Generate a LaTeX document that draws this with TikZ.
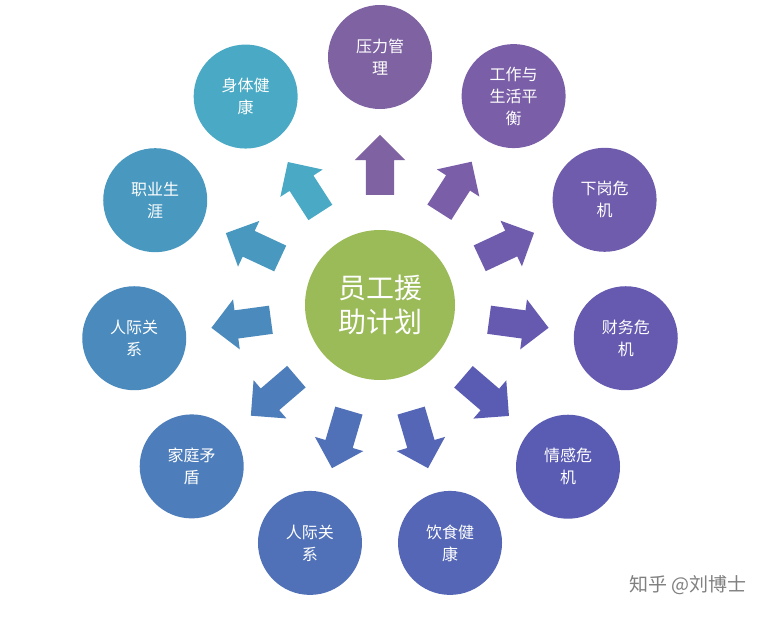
\documentclass[tikz,border=0pt]{standalone}
\usepackage{fontspec}
\setmainfont{Noto Sans CJK SC}
\usetikzlibrary{shapes.arrows,calc}
\definecolor{hubgreen}{HTML}{9BBB59}
\definecolor{c1}{HTML}{7E62A2}
\definecolor{c2}{HTML}{7A5FA8}
\definecolor{c3}{HTML}{705CAD}
\definecolor{c4}{HTML}{6559B0}
\definecolor{c5}{HTML}{5A5BB3}
\definecolor{c6}{HTML}{5466B5}
\definecolor{c7}{HTML}{5071B8}
\definecolor{c8}{HTML}{4D7DBA}
\definecolor{c9}{HTML}{4A8ABD}
\definecolor{c10}{HTML}{4898C0}
\definecolor{c11}{HTML}{4AAAC5}
\tikzset{
  hub/.style={circle,fill=hubgreen,minimum size=150pt,inner sep=0pt,text=white,
    align=center,font=\fontsize{28}{34}\selectfont},
  topic/.style={circle,minimum size=104pt,inner sep=0pt,text=white,align=center,
    font=\fontsize{16}{22}\selectfont},
  push/.style={single arrow,minimum height=60pt,inner xsep=0pt,inner ysep=14pt,
    single arrow head extend=11pt,single arrow head indent=0pt}
}
\begin{document}
\begin{tikzpicture}[x=1pt,y=-1pt]
	\useasboundingbox[fill=white] (0,0) rectangle (781,618);
	\node[hub] (hub) at (380,305) {员工援\\助计划};
	\foreach \n/\a/\txt in {1/90/{压力管\\理},2/57.4/{工作与\\生活平\\衡},3/25.1/{下岗危\\机},
	  4/-7.7/{财务危\\机},5/-40.7/{情感危\\机},6/-73.6/{饮食健\\康},7/-106.4/{人际关\\系},
	  8/-139.4/{家庭矛\\盾},9/-172.3/{人际关\\系},10/155/{职业生\\涯},11/122.8/{身体健\\康}}{
	  \node[topic,fill=c\n] (t\n) at ($(hub)+(-\a:248)$) {\txt};
	  \node[push,fill=c\n,rotate=\a] (a\n) at ($(hub)+(-\a:133)$) {};
	}
	\node[text=gray,font=\fontsize{19}{22}\selectfont] (mark) at (688,585) {知乎 @刘博士};
\end{tikzpicture}
\end{document}
